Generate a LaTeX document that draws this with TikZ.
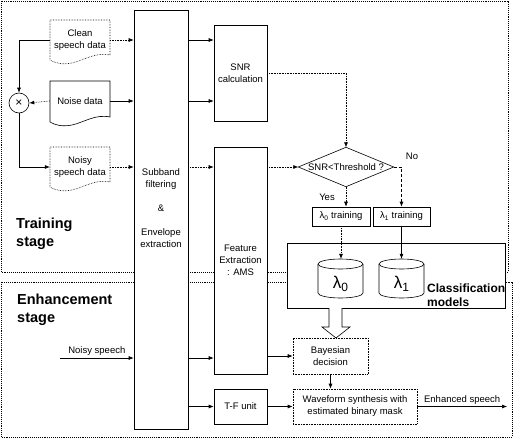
\documentclass[tikz,border=0pt]{standalone}
\usepackage{fontspec}
\setmainfont{Liberation Sans}
\usetikzlibrary{arrows.meta,calc}
\newcommand\txt{\fontsize{9.5}{12}\selectfont}
\newcommand\docpath[5]{% style, x1, yt, x2, yb
  \draw[#1] (#2,#3) -- (#4,#3) -- (#4,#5-8)
    .. controls (#2+45,#5-11) and (#2+35,#5-3) .. (#2+22,#5)
    .. controls (#2+12,#5+2) and (#2+5,#5) .. (#2,#5-3) -- cycle;}
\newcommand\cylpath[3]{% cx, yt, yb
  \draw[fill=white, line width=0.6pt] (#1-22.5,#2+5) -- (#1-22.5,#3-5)
    arc[start angle=180,end angle=360,x radius=22.5pt,y radius=5pt] -- (#1+22.5,#2+5);
  \draw[line width=0.6pt] (#1,#2+5) ellipse [x radius=22.5pt, y radius=5pt];}
\tikzset{
  box/.style={draw, fill=white, rectangle, inner sep=1pt, align=center, font=\txt, line width=0.6pt},
  dbox/.style={box, densely dotted},
  plain/.style={draw=none, inner sep=0pt, align=center, font=\txt},
  arr/.style={-{Latex[length=5pt,width=4pt]}, line width=0.6pt},
  dotarr/.style={arr, densely dotted},
  dasharr/.style={arr, densely dashed},
  frame/.style={densely dotted, line width=0.9pt},
  stagetxt/.style={inner sep=0pt, align=left, anchor=west, font=\bfseries\fontsize{14.5}{18}\selectfont},
}
\begin{document}
\begin{tikzpicture}[x=1pt,y=-1pt]
\useasboundingbox (0,0) rectangle (515,439);
% frames
\draw[frame] (1,1) rectangle (508,272);
\draw[frame] (1,282) rectangle (512,437);
\node[stagetxt] (train) at (16,234) {Training\\stage};
\node[stagetxt] (enh) at (17,310) {Enhancement\\stage};

% data documents
\docpath{densely dotted, line width=0.6pt, fill=white}{50}{20}{110}{63}
\docpath{line width=0.6pt, fill=white}{50}{81}{110}{125}
\docpath{densely dotted, line width=0.6pt, fill=white}{50}{147}{110}{190}
\node[plain, minimum width=60pt, minimum height=43pt] (clean) at (80,40) {Clean\\speech data};
\node[plain, minimum width=60pt, minimum height=20pt] (noise) at (80,101) {Noise data};
\node[plain, minimum width=60pt, minimum height=30pt] (noisy) at (80,167) {Noisy\\speech data};
\node[draw, circle, minimum size=20pt, inner sep=0pt, fill=white, font=\fontsize{12}{12}\selectfont, line width=0.6pt] (mult) at (19,103) {×};

% main boxes
\node[box, minimum width=54pt, minimum height=419pt] (sub) at (161,219.5) {};
\node[plain] (subtxt) at (161,208) {Subband\\filtering\\[12pt]\&\\[12pt]Envelope\\extraction};
\node[box, minimum width=53pt, minimum height=96pt] (snr) at (240.5,73) {SNR\\calculation};
\node[box, minimum width=53pt, minimum height=227pt] (feat) at (240.5,260.5) {Feature\\Extraction\\: AMS};
\node[box, minimum width=53pt, minimum height=35pt] (tf) at (240.5,406.5) {T-F unit};

% decision
\node[plain, minimum width=95pt, minimum height=39pt] (dia) at (346,167) {SNR<Threshold ?};
\draw[line width=0.6pt] (dia.west) -- (dia.north) -- (dia.east) -- (dia.south) -- cycle;
\node[box, minimum width=58pt, minimum height=19pt] (l0t) at (341,216.5) {λ\textsubscript{0} training};
\node[box, minimum width=57pt, minimum height=19pt] (l1t) at (401.5,216.5) {λ\textsubscript{1} training};
\node[plain] (yes) at (327,197) {Yes};
\node[plain] (no) at (412,156) {No};

% classification models
\node[box, minimum width=218pt, minimum height=65pt] (cls) at (396,275.5) {};
\cylpath{340.5}{259}{298}
\cylpath{401.5}{259}{298}
\node[plain, minimum width=45pt, minimum height=39pt] (lam0) at (340.5,278.5) {};
\node[plain, minimum width=45pt, minimum height=39pt] (lam1) at (401.5,278.5) {};
\node[plain, font=\fontsize{17}{17}\selectfont] (lam0t) at (340.5,284) {λ\raisebox{-3pt}{\fontsize{12}{12}\selectfont 0}};
\node[plain, font=\fontsize{17}{17}\selectfont] (lam1t) at (401.5,284) {λ\raisebox{-3pt}{\fontsize{12}{12}\selectfont 1}};
\node[inner sep=0pt, align=left, anchor=west, font=\bfseries\fontsize{12}{14}\selectfont] (clstxt) at (427,295) {Classification\\models};

% enhancement boxes
\node[dbox, minimum width=75pt, minimum height=36pt] (bay) at (330.5,356) {Bayesian\\decision};
\node[dbox, minimum width=124pt, minimum height=35pt] (wave) at (355,406.5) {Waveform synthesis with\\estimated binary mask};

% hollow arrow
\draw[fill=white, line width=0.6pt] (329,308) -- (329,327) -- (322,327) -- (336,338) -- (350,327) -- (342,327) -- (342,308);

% connectors - training
\draw[arr] (clean.west) -| (mult.north);
\draw[dotarr] (noise.west) -- (mult.east);
\draw[arr] (mult.south) |- (noisy.west);
\draw[dotarr] (clean.east) -- (sub.west |- clean.east);
\draw[arr] (noise.east) -- (sub.west |- noise.east);
\draw[dotarr] (noisy.east) -- (sub.west |- noisy.east);
\draw[arr] (sub.east |- clean.east) -- (snr.west |- clean.east);
\draw[arr] (sub.east |- noise.east) -- (snr.west |- noise.east);
\draw[dotarr] (sub.east |- dia.west) -- (feat.west |- dia.west);
\draw[dotarr] (feat.east |- dia.west) -- (dia.west);
\draw[dotarr] (snr.east) -| (dia.north);
\draw[dotarr] (dia.south) -- (dia.south |- l0t.north);
\draw[dasharr] (dia.east) -| (l1t.north);
\draw[dotarr] (l0t.south) -- (l0t.south |- lam0.north);
\draw[arr] (l1t.south) -- (l1t.south |- lam1.north);

% connectors - enhancement
\coordinate (nsin) at (60,358);
\draw[arr] (nsin) -- node[above=1pt, font=\txt, inner sep=1pt] (nslbl) {Noisy speech} (sub.west |- nsin);
\draw[arr] (sub.east |- nsin) -- (feat.west |- nsin);
\draw[arr] (feat.east |- bay.west) -- (bay.west);
\draw[arr] (sub.east |- tf.west) -- (tf.west);
\draw[arr] (bay.south) -- (bay.south |- wave.north);
\draw[arr] (tf.east) -- (wave.west);
\coordinate (enhout) at (507,406.5);
\draw[arr] (wave.east) -- node[above=1pt, font=\txt, inner sep=1pt] (enlbl) {Enhanced speech} (enhout);
\end{tikzpicture}
\end{document}
